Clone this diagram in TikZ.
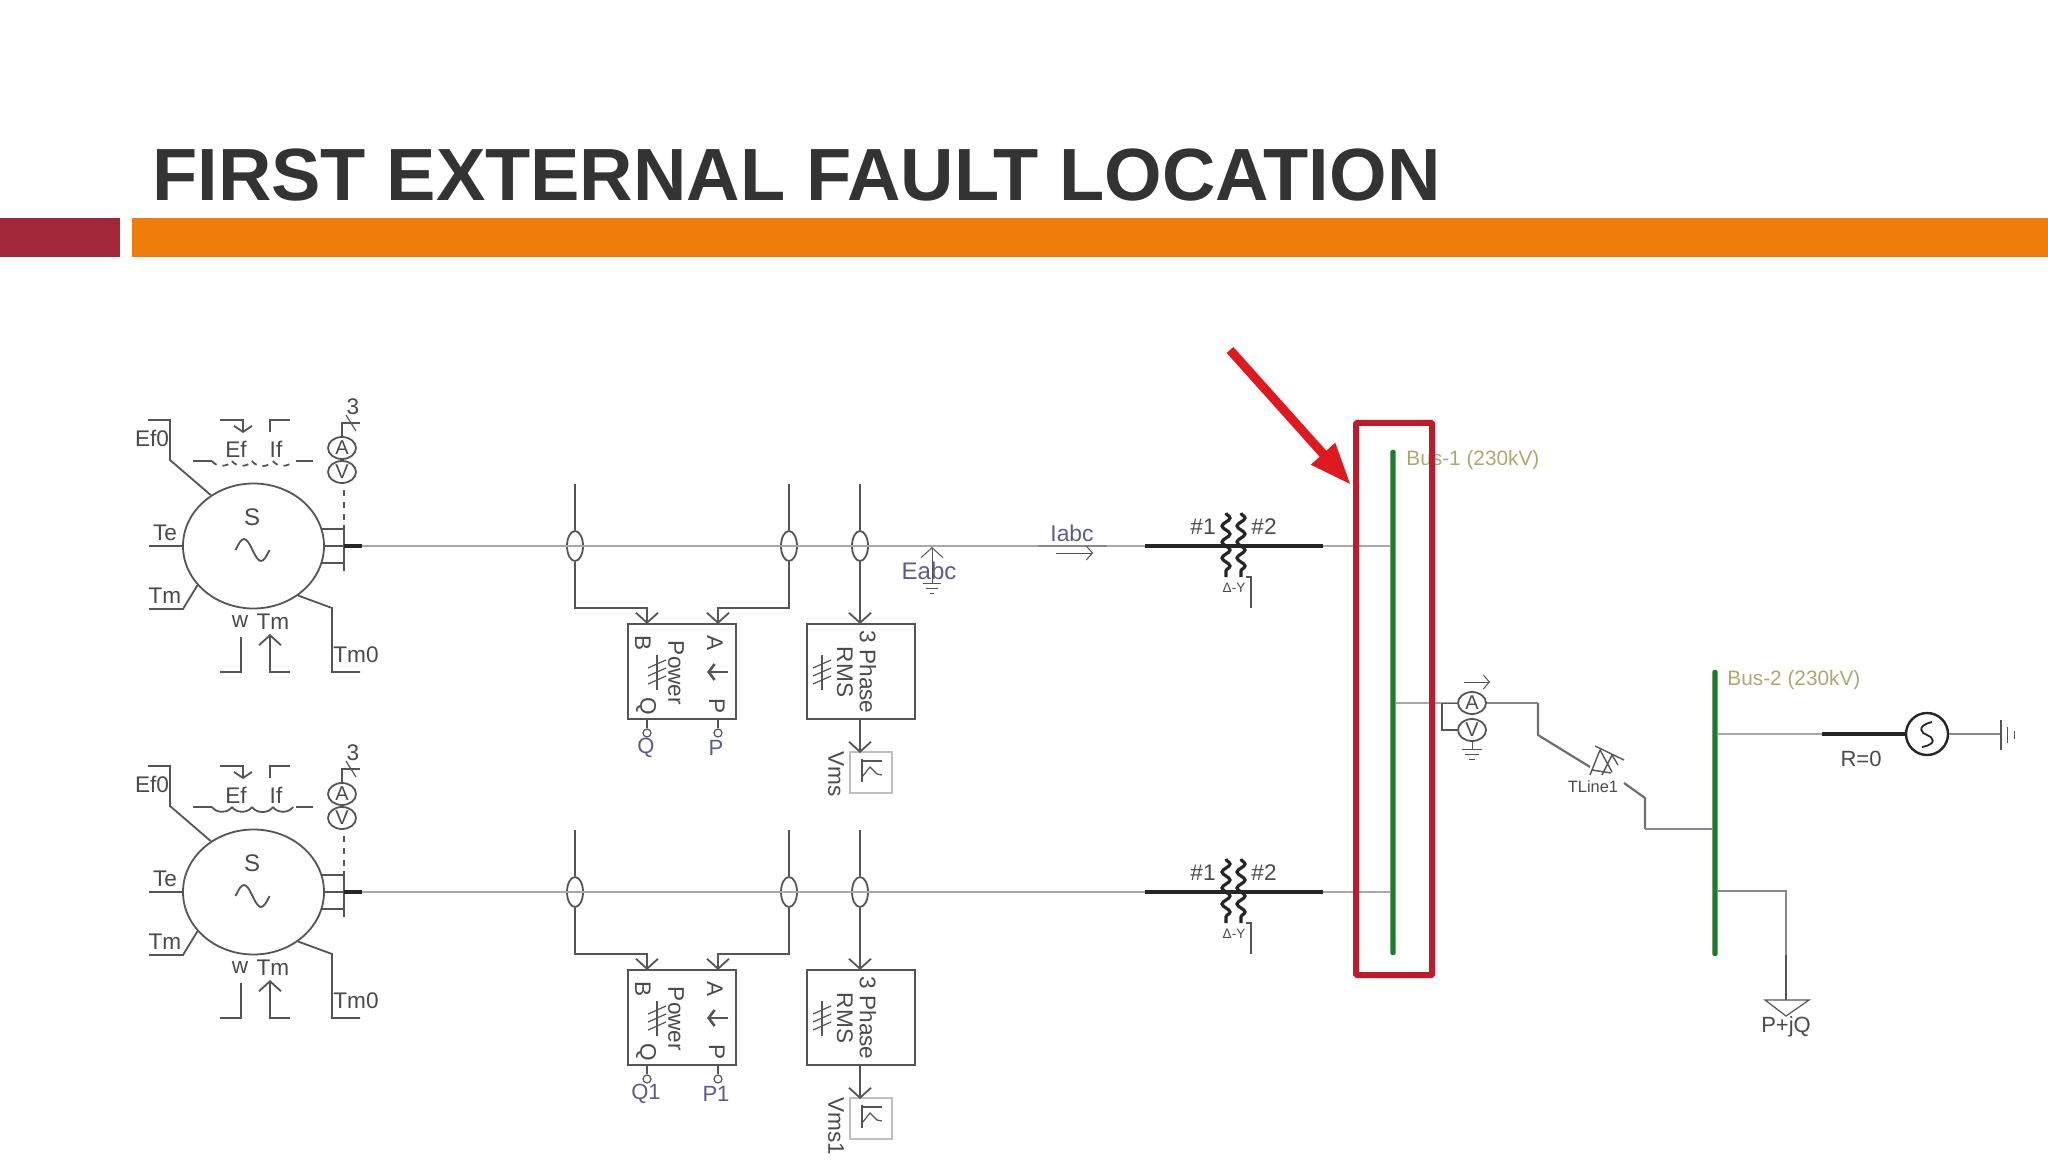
\documentclass[tikz,border=0pt]{standalone}
\usepackage{fontspec}
\setmainfont{Liberation Sans}
\usetikzlibrary{positioning}
\usetikzlibrary{calc}
\usetikzlibrary{shapes.geometric}
\usetikzlibrary{arrows.meta}
\usetikzlibrary{decorations.pathmorphing}
\definecolor{wireC}{HTML}{555555}
\definecolor{feedC}{HTML}{A8A8A8}
\definecolor{titleC}{HTML}{333333}
\definecolor{maroonC}{HTML}{A02838}
\definecolor{orangeC}{HTML}{EE7D0C}
\definecolor{busC}{HTML}{1E7A2C}
\definecolor{frameC}{HTML}{BC1C2C}
\definecolor{pointerC}{HTML}{DE1A20}
\definecolor{slateC}{HTML}{5C5C8C}
\definecolor{oliveC}{HTML}{A8AA70}
\definecolor{labelC}{HTML}{4A4A4A}

\begin{document}
\begin{tikzpicture}[
          x=0.5pt, y=-0.5pt,
          wire/.style = {draw=wireC, line width=0.9pt},
          feeder/.style = {draw=feedC, line width=0.7pt},
          heavy/.style = {draw=black!85, line width=2pt},
          barb/.style = {-{Straight Barb[length=5pt,width=11pt]}},
          lab/.style = {font=\fontsize{11.3}{13}\selectfont, text=labelC, inner sep=0pt},
          tag/.style = {font=\fontsize{11}{13}\selectfont, text=slateC, inner sep=0pt},
          turned/.style = {lab, rotate=-90},
          gen/.style = {ellipse, draw=wireC, line width=0.9pt, inner sep=0pt, minimum width=70.5pt, minimum height=62.5pt},
          meter/.style = {ellipse, draw=wireC, line width=0.9pt, inner sep=0pt, minimum width=14pt, minimum height=11pt, font=\fontsize{10}{12}\selectfont, text=labelC},
          ct/.style = {ellipse, draw=wireC, line width=0.9pt, inner sep=0pt, minimum width=8pt, minimum height=15pt},
          blockbox/.style = {rectangle, draw=wireC, line width=1pt, inner sep=0pt, minimum width=54pt, minimum height=47.5pt},
          scopebox/.style = {rectangle, draw=black!25, line width=1.4pt, inner sep=0pt, minimum width=21pt, minimum height=20.5pt},
          busbar/.style = {rectangle, fill=busC, rounded corners=1pt, inner sep=0pt, minimum width=2.7pt},
          coil/.style = {draw=black!85, line width=1.6pt, decorate, decoration={snake,segment length=8pt,amplitude=2pt}},
          busmark/.pic = {
            \draw[wire] (0,-17) -- (0,18);
            \foreach \dy in {-8,0,8} \draw[wire, line width=0.6pt] (-9,\dy+4) -- (9,\dy-4);
          },
          font = \fontsize{10.4}{12}\selectfont
        ]
        \useasboundingbox (0,0) rectangle (2048,1170);

        % Title and bars
        \node[anchor=base west, inner sep=0pt, text=titleC, font=\fontsize{37}{44}\selectfont\bfseries] (title) at (152,201) {FIRST EXTERNAL FAULT LOCATION};
        \fill[maroonC] (0,218) rectangle (120,257);
        \fill[orangeC] (132,218) rectangle (2048,257);

        % Buses
        \node[busbar, minimum height=252.5pt] (bus1) at (1393,702.5) {};
        \node[busbar, minimum height=143pt] (bus2) at (1715,813) {};
        \node[anchor=west, inner sep=0pt, text=oliveC] (bus1label) at (1406,460) {Bus-1 (230kV)};
        \node[anchor=west, inner sep=0pt, text=oliveC] (bus2label) at (1727,680) {Bus-2 (230kV)};

        % The two generator rows
        \foreach \row/\dy/\coilstyle/\qname/\pname/\vname in {1/0/dashed/Q/P/Vms, 2/346/solid/Q1/P1/Vms1} {
        \begin{scope}[shift={(0,\dy)}]
          % Machine
          \node[gen] (gen\row) at (253.5,546) {};
          \node[lab, font=\fontsize{12}{14}\selectfont] (genS\row) at (252,517) {S};
          \draw[wire] plot[smooth, domain=-1:1, samples=17] ({252.5+17*\x},{550+11*sin(180*\x)});
          \node[lab] (te\row) at (165,533) {Te};
          \node[lab] (tm\row) at (165,596) {Tm};
          \node[lab] (efzero\row) at (152,438) {Ef0};
          \node[lab] (ef\row) at (236,449) {Ef};
          \node[lab] (if\row) at (276,449) {If};
          \node[lab] (w\row) at (240,622) {w};
          \node[lab] (tmin\row) at (273,622) {Tm};
          \node[lab] (tmzero\row) at (356,655) {Tm0};
          \coordinate (teend\row) at (149,546);
          \coordinate (tmend\row) at (149,609);
          \coordinate (efzeroend\row) at (148,420);
          \coordinate (tmzeroend\row) at (360,672);
          \draw[wire] (gen\row.west) -- (teend\row);
          \draw[wire] (gen\row.-145) -- (183,609) -- (tmend\row);
          \draw[wire] (gen\row.130) -- (170,460) -- (170,420) -- (efzeroend\row);
          \draw[wire] (gen\row.-48) -- (332,608) -- (332,672) -- (tmzeroend\row);
          \draw[wire] (220,672) -- (241,672) -- (241,637);
          \draw[wire, barb] (290,672) -- (270,672) -- (270,634);
          \draw[wire, -{Straight Barb[length=3pt,width=9pt]}] (220,420) -- (243,420) -- (243,433);
          \draw[wire] (270,432) -- (270,420) -- (290,420);

          % Field winding
          \draw[wire] (193,461) -- (212,461);
          \foreach \xa/\xb in {212/232,232/252,252/273,273/293}
            \draw[wire, \coilstyle, bend right=55] (\xa,461) to (\xb,461);
          \draw[wire] (296,461) -- (313,461);

          % Meters on the terminals
          \node[meter] (amm\row) at (342,448) {A};
          \node[meter] (vlt\row) at (342,472) {V};
          \node[lab] (three\row) at (353,407) {3};
          \coordinate (term\row) at (344,546);
          \coordinate (out\row) at (362,546);
          \draw[wire] (amm\row.north) -- (342,423) -- (360,423);
          \draw[wire, line width=0.6pt] (346,415) -- (356,431);
          \draw[wire, dashed] (344,490) -- (344,525);
          \draw[wire] (344,525) -- (344,571);
          \draw[wire] (321,529) -- (344,529);
          \draw[wire] (324,546) -- (term\row);
          \draw[wire] (321,563) -- (344,563);
          \draw[heavy] (term\row) -- (out\row);

          % Measurement points
          \node[ct] (ctA\row) at (575,546) {};
          \node[ct] (ctB\row) at (789,546) {};
          \node[ct] (ctC\row) at (860,546) {};
          \foreach \ctname/\ctx in {ctA/575,ctB/789,ctC/860} {
            \coordinate (\ctname top\row) at (\ctx,484);
            \draw[wire] (\ctname\row.north) -- (\ctname top\row);
          }

          % Power block
          \node[blockbox] (power\row) at (682,671.5) {};
          \node[turned] (powerA\row) at (715,643) {A};
          \node[turned] (powerB\row) at (643,643) {B};
          \node[turned] (powerP\row) at (717,706) {P};
          \node[turned] (powerQ\row) at (646,706) {Q};
          \node[turned] (powerText\row) at (676,673) {Power};
          \coordinate (pwrIA\row) at (718,624);
          \coordinate (pwrIB\row) at (647,624);
          \draw[wire, barb] (ctA\row.south) -- (575,608) -| (pwrIB\row);
          \draw[wire, barb] (ctB\row.south) -- (789,608) -| (pwrIA\row);
          \draw[wire, line width=1.3pt, -{Straight Barb[length=3pt,width=8pt]}] (728,672) -- (707,672);
          \pic at (657,672) {busmark};

          % Power outputs
          \node[circle, draw=wireC, line width=0.6pt, inner sep=0pt, minimum size=4pt] (termQ\row) at (647,733) {};
          \node[circle, draw=wireC, line width=0.6pt, inner sep=0pt, minimum size=4pt] (termP\row) at (718,733) {};
          \draw[wire] (647,719) -- (termQ\row);
          \draw[wire] (718,719) -- (termP\row);
          \node[tag] (qlabel\row) at (646,748) {\qname};
          \node[tag] (plabel\row) at (716,748) {\pname};

          % RMS block and scope
          \node[blockbox] (rms\row) at (860.5,671.5) {};
          \node[turned] (rmsPhase\row) at (868,672) {3 Phase};
          \node[turned] (rmsText\row) at (845,672) {RMS};
          \pic at (822,672) {busmark};
          \node[scopebox] (scope\row) at (871,772.5) {};
          \draw[wire, barb] (ctC\row.south) -- (860,624);
          \draw[wire, barb] (860,719) -- (860,753);
          \draw[wire] (862,759) -- (862,782);
          \draw[wire] (862,761) -- (882,761);
          \draw[wire, line width=0.6pt] (862,777) -- (870,767) -- (877,774) -- (882,775);
          \node[turned, anchor=west] (vlabel\row) at (836,751) {\vname};

          % Main line and transformer
          \coordinate (trin\row) at (1145,546);
          \coordinate (trout\row) at (1323,546);
          \draw[feeder] (out\row) -- (trin\row);
          \draw[heavy] (trin\row) -- (trout\row);
          \draw[feeder] (trout\row) -- (trout\row -| bus1.west);
          \draw[coil] (1226,513) -- (1226,577);
          \draw[coil] (1241,513) -- (1241,577);
          \draw[wire, line width=0.6pt] (1246,577) -- (1251,577) -- (1251,608);
          \node[lab] (primary\row) at (1203,527) {\#1};
          \node[lab] (secondary\row) at (1264,527) {\#2};
          \node[lab, font=\fontsize{6.8}{8}\selectfont] (vector\row) at (1234,588) {Δ-Y};
        \end{scope}
        }

        % Signal tags of the upper row
        \node[tag, font=\fontsize{11.4}{13}\selectfont] (iabc) at (1072,533) {Iabc};
        \draw[wire, draw=wireC!70, line width=0.7pt] (1038,546) -- (1107,546);
        \draw[wire, line width=0.5pt, -{Straight Barb[length=3pt,width=7pt]}] (1056,553) -- (1093,553);
        \node[tag, font=\fontsize{12}{14}\selectfont] (eabc) at (929,571) {Eabc};
        \draw[wire, line width=0.5pt, barb] (932,583) -- (932,547);
        \draw[wire, line width=0.5pt] (923,583) -- (941,583) (926,588) -- (938,588) (930,593) -- (934,593);

        % Line from bus 1
        \coordinate (buswest) at (1442,703);
        \node[meter] (lineA) at (1472,703) {A};
        \node[meter] (lineV) at (1472,730) {V};
        \draw[feeder] (bus1.east |- lineA) -- (lineA.west);
        \draw[wire, line width=0.5pt] (buswest) -- (lineA.west);
        \draw[wire] (buswest) |- (lineV.west);
        \draw[wire, line width=0.5pt, -{Straight Barb[length=3pt,width=7pt]}] (1464,682) -- (1490,682);
        \draw[wire, line width=0.5pt] (lineV.south) -- (1472,749);
        \draw[wire, line width=0.5pt] (1462,749) -- (1482,749) (1465,754) -- (1479,754) (1469,759) -- (1475,759);

        % Transmission line
        \coordinate (towerin) at (1590,767);
        \coordinate (towerout) at (1624,783);
        \node[lab, font=\fontsize{8.2}{10}\selectfont] (tline) at (1593,787) {TLine1};
        \draw[feeder, draw=wireC!70] (lineA.east) -- (1538,703);
        \draw[wire, line width=1.1pt, draw=wireC!85] (1538,703) -- (1538,735) -- (towerin);
        \draw[wire, line width=1.1pt, draw=wireC!85] (towerout) -- (1645,798) -- (1645,829);
        \draw[feeder, draw=wireC!70] (1645,829) -- (1645,829 -| bus2.west);
        \draw[wire, line width=0.7pt] (1595,746) -- (1624,760) (1600,750) -- (1590,775) (1612,755) -- (1602,775) (1600,750) -- (1612,772) (1612,755) -- (1618,765) (1592,770) -- (1611,773);

        % Source at bus 2
        \node[circle, draw=black!85, line width=1.2pt, inner sep=0pt, minimum size=21pt] (source) at (1927,734) {};
        \draw[line width=0.9pt, black!85] (1932,722) .. controls (1915,726) and (1922,734) .. (1927,735) .. controls (1933,737) and (1938,744) .. (1922,747);
        \coordinate (rstart) at (1822,734);
        \coordinate (groundbar) at (2001,734);
        \node[lab, font=\fontsize{11}{13}\selectfont] (rzero) at (1861,759) {R=0};
        \draw[feeder] (rstart -| bus2.east) -- (rstart);
        \draw[heavy] (rstart) -- (source.west);
        \draw[feeder, draw=wireC!70] (source.east) -- (groundbar);
        \draw[wire] (2001,720) -- (2001,750);
        \draw[wire, line width=0.5pt] (2007,727) -- (2007,743) (2014,731) -- (2014,739);

        % Load at bus 2
        \coordinate (loadtop) at (1786,891);
        \coordinate (loadin) at (1786,1000);
        \node[lab, font=\fontsize{11}{13}\selectfont] (load) at (1786,1027) {P+jQ};
        \draw[feeder, draw=wireC!70] (loadtop -| bus2.east) -- (loadtop) -- (1786,955);
        \draw[wire] (1786,955) -- (loadin);
        \draw[wire, line width=0.6pt] (1765,1000) -- (1809,1000) -- (1786,1016) -- cycle;

        % Fault marking
        \node[rectangle, draw=frameC, line width=3pt, inner sep=0pt, rounded corners=0.5pt, minimum width=38pt, minimum height=276pt] (faultframe) at (1394,699) {};
        \coordinate (pointertail) at (1230,350);
        \coordinate (pointertip) at (1351,485);
        \draw[pointerC, line width=4.5pt, -{Triangle[length=21pt,width=15pt]}] (pointertail) -- (pointertip);

      \end{tikzpicture}
\end{document}
